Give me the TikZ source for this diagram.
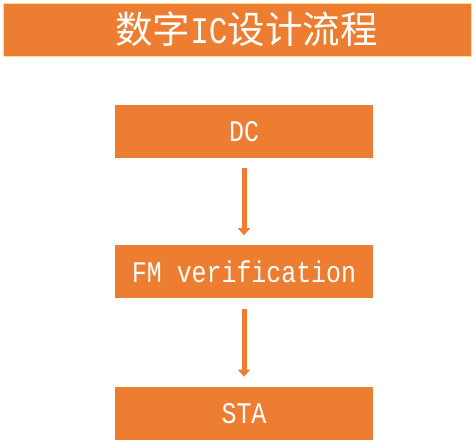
\documentclass[tikz,border=0pt]{standalone}
\usepackage{fontspec}
\setmainfont{Liberation Mono}[FakeStretch=0.83]
\newfontfamily\cjk{Noto Sans CJK SC}
\usetikzlibrary{arrows.meta, positioning}
\definecolor{flowOrange}{HTML}{ED7D31}
\definecolor{flowYellow}{HTML}{FFE08A}
\tikzstyle{titlebox} = [
	rectangle,
	minimum width=468pt,
	minimum height=53pt,
	text centered,
	inner sep=0pt,
	draw=flowYellow,
	line width=1pt,
	fill=flowOrange,
	text=white,
	font=\fontsize{37.5pt}{40pt}\selectfont
]
\tikzstyle{stepbox} = [
	rectangle,
	minimum width=258pt,
	minimum height=53pt,
	text centered,
	inner sep=0pt,
	fill=flowOrange,
	text=white,
	font=\fontsize{30pt}{32pt}\selectfont
]
\tikzstyle{arrow} = [draw=flowOrange, line width=5pt, -{Triangle[width=12pt,length=7pt]}]

\begin{document}
\begin{tikzpicture}[node distance=87pt]
		\useasboundingbox (0pt,0pt) rectangle (474pt,-445pt);
		\node (title) [titlebox] at (237pt,-29.5pt) {\hspace*{19pt}{\cjk 数字}IC{\cjk 设计流程}};
		\node (dc) [stepbox] at (244pt,-131.5pt) {DC};
		\node (fm) [stepbox, below=of dc] {FM verification};
		\node (sta) [stepbox, below=of fm, yshift=-1pt] {STA};

		\draw [arrow] ([yshift=-10pt]dc.south) -- ([yshift=10pt]fm.north);
		\draw [arrow] ([yshift=-10pt]fm.south) -- ([yshift=10pt]sta.north);
	\end{tikzpicture}
\end{document}
